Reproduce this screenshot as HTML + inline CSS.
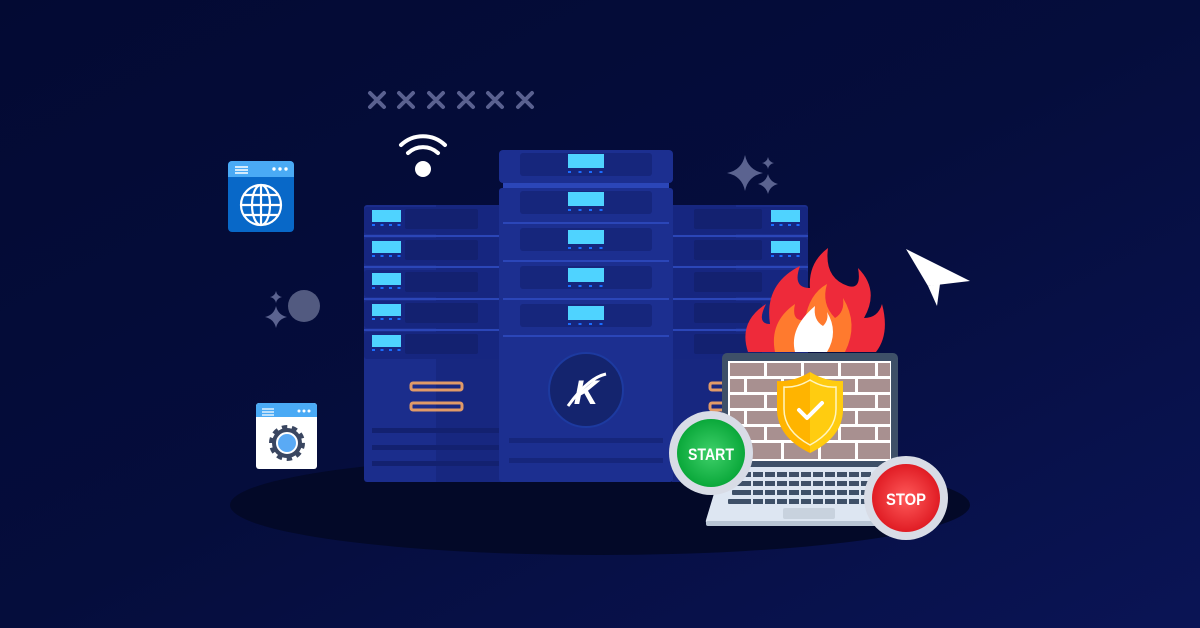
<!DOCTYPE html>
<html><head><meta charset="utf-8"><style>
html,body{margin:0;padding:0;width:1200px;height:628px;overflow:hidden;background:#06103f}
svg{display:block}
</style></head><body>
<svg width="1200" height="628" viewBox="0 0 1200 628" xmlns="http://www.w3.org/2000/svg">
<defs>
<linearGradient id="bg" x1="0" y1="0" x2="1" y2="1">
<stop offset="0" stop-color="#030a33"/><stop offset="0.5" stop-color="#050d3c"/><stop offset="1" stop-color="#0a1455"/>
</linearGradient>
<radialGradient id="sg" cx="0.5" cy="0.5" r="0.5"><stop offset="0" stop-color="#3fd06a"/><stop offset="1" stop-color="#0aa83a"/></radialGradient>
<radialGradient id="rg" cx="0.5" cy="0.5" r="0.5"><stop offset="0" stop-color="#ff5a5a"/><stop offset="1" stop-color="#e01c24"/></radialGradient>
</defs>
<rect width="1200" height="628" fill="url(#bg)"/>
<ellipse cx="600" cy="505" rx="370" ry="50" fill="#030928"/>

<!-- X marks -->
<g stroke="#5a6190" stroke-width="4" stroke-linecap="round">
<path d="M370 93l14 14M384 93l-14 14M399 93l14 14M413 93l-14 14M429 93l14 14M443 93l-14 14M459 93l14 14M473 93l-14 14M488 93l14 14M502 93l-14 14M518 93l14 14M532 93l-14 14"/>
</g>
<!-- wifi -->
<g fill="none" stroke="#fff" stroke-width="4" stroke-linecap="round">
<path d="M401 145a32 32 0 0 1 44 0"/><path d="M408 153a22 22 0 0 1 30 0"/>
</g>
<circle cx="423" cy="169" r="8" fill="#fff"/>

<!-- sparkles -->
<g fill="#5b6390">
<path d="M745 155q3 15 18 18q-15 3 -18 18q-3 -15 -18 -18q15 -3 18 -18z"/>
<path d="M768 157q1 5 6 6q-5 1 -6 6q-1 -5 -6 -6q5 -1 6 -6z"/>
<path d="M768 174q2 8 10 10q-8 2 -10 10q-2 -8 -10 -10q8 -2 10 -10z"/>
<path d="M276 291q1 5 6 6q-5 1 -6 6q-1 -5 -6 -6q5 -1 6 -6z"/>
<path d="M276 306q2 9 11 11q-9 2 -11 11q-2 -9 -11 -11q9 -2 11 -11z"/>
</g>
<circle cx="304" cy="306" r="16" fill="#525a80"/>

<!-- globe window -->
<rect x="228" y="161" width="66" height="71" rx="4" fill="#0868c8"/>
<path d="M232 161h58a4 4 0 0 1 4 4v12h-66v-12a4 4 0 0 1 4-4z" fill="#4aaaf5"/>
<g stroke="#fff" stroke-width="1.5"><path d="M235 167h13M235 170h13M235 173h13"/></g>
<g fill="#fff"><circle cx="274" cy="169" r="1.7"/><circle cx="280" cy="169" r="1.7"/><circle cx="286" cy="169" r="1.7"/></g>
<g fill="none" stroke="#fff" stroke-width="2.2">
<circle cx="261" cy="205" r="20"/><ellipse cx="261" cy="205" rx="9" ry="20"/><path d="M261 185v40M241 205h40M244 195h34M244 215h34"/>
</g>

<!-- gear window -->
<rect x="256" y="403" width="61" height="66" rx="3" fill="#fff"/>
<path d="M259 403h55a3 3 0 0 1 3 3v11h-61v-11a3 3 0 0 1 3-3z" fill="#4aaaf5"/>
<g stroke="#fff" stroke-width="1.3"><path d="M262 409h12M262 412h12M262 415h12"/></g>
<g fill="#fff"><circle cx="299" cy="411" r="1.5"/><circle cx="304" cy="411" r="1.5"/><circle cx="309" cy="411" r="1.5"/></g>
<circle cx="287" cy="443" r="15" fill="#3a4660" stroke="#3a4660" stroke-width="6" stroke-dasharray="5 4.4"/>
<circle cx="287" cy="443" r="10" fill="#5aaaf5" stroke="#fff" stroke-width="2"/>

<!-- left rack -->
<rect x="364" y="205" width="140" height="277" rx="3" fill="#1b2d8c"/>
<rect x="436" y="205" width="68" height="277" fill="#172780"/>
<g fill="#162680">
<rect x="364" y="207" width="140" height="27" rx="3"/><rect x="364" y="238" width="140" height="27" rx="3"/><rect x="364" y="270" width="140" height="27" rx="3"/><rect x="364" y="301" width="140" height="27" rx="3"/><rect x="364" y="332" width="140" height="27" rx="3"/>
</g>
<g fill="#2b46b8"><rect x="364" y="235" width="140" height="2"/><rect x="364" y="266" width="140" height="2"/><rect x="364" y="298" width="140" height="2"/><rect x="364" y="329" width="140" height="2"/></g>
<g fill="#132170">
<rect x="405" y="209" width="73" height="20" rx="2"/><rect x="405" y="240" width="73" height="20" rx="2"/><rect x="405" y="272" width="73" height="20" rx="2"/><rect x="405" y="303" width="73" height="20" rx="2"/><rect x="405" y="334" width="73" height="20" rx="2"/>
<rect x="372" y="428" width="128" height="5"/><rect x="372" y="445" width="128" height="5"/><rect x="372" y="461" width="128" height="5"/>
</g>
<g fill="#4fd3ff">
<rect x="372" y="210" width="29" height="12"/><rect x="372" y="241" width="29" height="12"/><rect x="372" y="273" width="29" height="12"/><rect x="372" y="304" width="29" height="12"/><rect x="372" y="335" width="29" height="12"/>
</g>
<g stroke="#1a6cff" stroke-width="2" stroke-dasharray="3 5.5"><path d="M372 225h29M372 256h29M372 288h29M372 319h29M372 350h29"/></g>
<g fill="none" stroke="#e09a68" stroke-width="3"><rect x="411" y="383" width="51" height="7" rx="2"/><rect x="411" y="403" width="51" height="7" rx="2"/></g>

<!-- right rack -->
<rect x="672" y="205" width="136" height="277" rx="3" fill="#1b2d8c"/>
<rect x="672" y="205" width="64" height="277" fill="#172780"/>
<g fill="#162680">
<rect x="672" y="207" width="136" height="27" rx="3"/><rect x="672" y="238" width="136" height="27" rx="3"/><rect x="672" y="270" width="136" height="27" rx="3"/><rect x="672" y="301" width="136" height="27" rx="3"/><rect x="672" y="332" width="136" height="27" rx="3"/>
</g>
<g fill="#2b46b8"><rect x="672" y="235" width="136" height="2"/><rect x="672" y="266" width="136" height="2"/><rect x="672" y="298" width="136" height="2"/><rect x="672" y="329" width="136" height="2"/></g>
<g fill="#132170">
<rect x="694" y="209" width="68" height="20" rx="2"/><rect x="694" y="240" width="68" height="20" rx="2"/><rect x="694" y="272" width="68" height="20" rx="2"/><rect x="694" y="303" width="68" height="20" rx="2"/><rect x="694" y="334" width="68" height="20" rx="2"/>
</g>
<g fill="#4fd3ff"><rect x="771" y="210" width="29" height="12"/><rect x="771" y="241" width="29" height="12"/></g>
<g stroke="#1a6cff" stroke-width="2" stroke-dasharray="3 5.5"><path d="M771 225h29M771 256h29"/></g>
<g fill="none" stroke="#e09a68" stroke-width="3"><rect x="710" y="383" width="40" height="7" rx="2"/><rect x="710" y="403" width="40" height="7" rx="2"/></g>

<!-- center rack -->
<rect x="499" y="188" width="174" height="294" rx="3" fill="#1c2f90"/>
<rect x="499" y="150" width="174" height="33" rx="4" fill="#1c2f90"/>
<rect x="503" y="183" width="166" height="5" fill="#2b46b8"/>
<g fill="#2b46b8"><rect x="503" y="222" width="166" height="2"/><rect x="503" y="260" width="166" height="2"/><rect x="503" y="298" width="166" height="2"/><rect x="503" y="335" width="166" height="2"/></g>
<g fill="#16267c">
<rect x="520" y="153" width="132" height="23" rx="3"/><rect x="520" y="191" width="132" height="23" rx="3"/><rect x="520" y="228" width="132" height="23" rx="3"/><rect x="520" y="266" width="132" height="23" rx="3"/><rect x="520" y="304" width="132" height="23" rx="3"/>
<rect x="509" y="438" width="154" height="5"/><rect x="509" y="458" width="154" height="5"/>
</g>
<g fill="#4fd3ff">
<rect x="568" y="154" width="36" height="14"/><rect x="568" y="192" width="36" height="14"/><rect x="568" y="230" width="36" height="14"/><rect x="568" y="268" width="36" height="14"/><rect x="568" y="306" width="36" height="14"/>
</g>
<g stroke="#1a6cff" stroke-width="2" stroke-dasharray="3 7.5"><path d="M568 172h36M568 210h36M568 248h36M568 286h36M568 324h36"/></g>
<circle cx="586" cy="390" r="37" fill="#14246e" stroke="#1d3aa0" stroke-width="2"/>
<text x="586" y="404" text-anchor="middle" font-family="Liberation Sans, sans-serif" font-weight="bold" font-size="34" fill="#fff" font-style="italic">K</text>
<path d="M568 406q20-28 38-32" fill="none" stroke="#fff" stroke-width="3"/>

<!-- paper plane -->
<path d="M906 249l64 32l-42 5z" fill="#fff"/>
<path d="M928 286l12 -2l-3 22z" fill="#fff"/>

<!-- fire -->
<path d="M748 352q-10-30 18-48q-10 20 4 20q-6-40 30-58q-8 22 10 22q-2-25 18-40q-4 30 20 38q14 4 10-18q22 22 6 50q14 0 18-14q8 30-6 48z" fill="#ee2a3a"/>
<path d="M775 352q-6-30 20-48q-4 18 10 16q4-26 22-36q-6 20 8 34q10-6 8-20q16 26 2 54z" fill="#ff7a2e"/>
<path d="M795 352q-6-24 20-46q-2 14 8 20q6-6 4-14q12 20 0 40z" fill="#fff"/>

<!-- laptop -->
<rect x="722" y="353" width="176" height="114" rx="5" fill="#3e5068"/>
<rect x="728" y="361" width="163" height="100" fill="#fff"/>
<g fill="#a89090">
<rect x="730" y="363" width="34" height="13"/><rect x="767" y="363" width="34" height="13"/><rect x="804" y="363" width="34" height="13"/><rect x="841" y="363" width="34" height="13"/><rect x="878" y="363" width="12" height="13"/>
<rect x="730" y="379" width="14" height="13"/><rect x="747" y="379" width="34" height="13"/><rect x="784" y="379" width="34" height="13"/><rect x="821" y="379" width="34" height="13"/><rect x="858" y="379" width="32" height="13"/>
<rect x="730" y="395" width="34" height="13"/><rect x="767" y="395" width="34" height="13"/><rect x="804" y="395" width="34" height="13"/><rect x="841" y="395" width="34" height="13"/><rect x="878" y="395" width="12" height="13"/>
<rect x="730" y="411" width="14" height="13"/><rect x="747" y="411" width="34" height="13"/><rect x="784" y="411" width="34" height="13"/><rect x="821" y="411" width="34" height="13"/><rect x="858" y="411" width="32" height="13"/>
<rect x="730" y="427" width="34" height="13"/><rect x="767" y="427" width="34" height="13"/><rect x="804" y="427" width="34" height="13"/><rect x="841" y="427" width="34" height="13"/><rect x="878" y="427" width="12" height="13"/>
<rect x="730" y="443" width="14" height="16"/><rect x="747" y="443" width="34" height="16"/><rect x="784" y="443" width="34" height="16"/><rect x="821" y="443" width="34" height="16"/><rect x="858" y="443" width="32" height="16"/>
</g>
<path d="M722 467h176l15 53q1 5-4 5h-199q-5 0-4-5z" fill="#dde6f2"/>
<rect x="706" y="521" width="207" height="5" rx="2" fill="#b8c4d4"/>
<g fill="#3e5068">
<rect x="740" y="472" width="140" height="5" rx="1"/><rect x="736" y="481" width="148" height="5" rx="1"/><rect x="732" y="490" width="156" height="5" rx="1"/><rect x="728" y="499" width="164" height="5" rx="1"/>
</g>
<g stroke="#dde6f2" stroke-width="2"><path d="M752 470v36M764 470v36M776 470v36M788 470v36M800 470v36M812 470v36M824 470v36M836 470v36M848 470v36M860 470v36M872 470v36"/></g>
<rect x="783" y="508" width="52" height="11" rx="2" fill="#c8d2de"/>
<!-- shield -->
<path d="M810 372q16 10 33 9v28q0 28-33 44q-33-16-33-44v-28q17 1 33-9z" fill="#ffb400"/>
<path d="M810 372q16 10 33 9v28q0 28-33 44z" fill="#ffcc10"/>
<path d="M810 380q13 8 26 7v22q0 22-26 36q-26-14-26-36v-22q13 1 26-7z" fill="none" stroke="#fff5c0" stroke-width="1.5"/>
<path d="M799 410l8 8l15-15" fill="none" stroke="#fff" stroke-width="4" stroke-linecap="round" stroke-linejoin="round"/>

<!-- START -->
<circle cx="711" cy="453" r="42" fill="#d8dce6"/>
<circle cx="711" cy="453" r="34" fill="url(#sg)"/>
<text x="711" y="460" text-anchor="middle" font-family="Liberation Sans, sans-serif" font-weight="bold" font-size="17" fill="#fff" textLength="46" lengthAdjust="spacingAndGlyphs">START</text>
<!-- STOP -->
<circle cx="906" cy="498" r="42" fill="#d8dce6"/>
<circle cx="906" cy="498" r="34" fill="url(#rg)"/>
<text x="906" y="505" text-anchor="middle" font-family="Liberation Sans, sans-serif" font-weight="bold" font-size="17" fill="#fff" textLength="40" lengthAdjust="spacingAndGlyphs">STOP</text>
</svg>
</body></html>
